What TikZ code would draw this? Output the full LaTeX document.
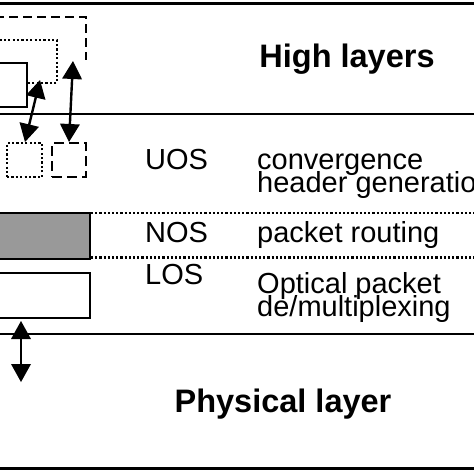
\documentclass[tikz,border=0pt]{standalone}
\usepackage{fontspec}
\setmainfont{Liberation Sans}
\usetikzlibrary{calc}
\newcommand\arrhead[2]{%
  \coordinate (hb) at ($(#1)!18pt!(#2)$);
  \fill[black] (#1) -- ($(hb)!10pt!90:(#1)$) -- ($(hb)!10pt!-90:(#1)$) -- cycle;}
\begin{document}
\begin{tikzpicture}[x=1pt,y=-1pt,
  layerline/.style={line width=2.6pt},
  dotline/.style={line width=2.6pt,dash pattern=on 2.2pt off 2.2pt},
  thindot/.style={line width=2.4pt,dash pattern=on 2.2pt off 2pt},
  dashline/.style={line width=2.6pt,dash pattern=on 9pt off 5pt},
  solidbox/.style={line width=2.6pt},
  shaft/.style={line width=2.4pt,shorten <=8pt,shorten >=8pt},
  big/.style={font=\fontsize{32.5}{34}\selectfont\bfseries,inner sep=0pt,anchor=base},
  txt/.style={font=\fontsize{29}{24}\selectfont,inner sep=0pt,anchor=base west}]
\useasboundingbox (0,0) rectangle (474,474);
% layer boundaries
\draw[layerline] (-5,3.5) -- (480,3.5);
\draw[layerline] (-5,114) -- (480,114);
\draw[layerline] (-5,334) -- (480,334);
\draw[line width=3pt] (-5,468.5) -- (480,468.5);
% high-layer boxes
\draw[dashline] (-5,17) -| (86,60);
\draw[dotline,fill=white] (-5,40) -| (57,83) -- (-5,83);
\draw[solidbox,fill=white] (-5,63) -| (27,107) -- (-5,107);
% small UOS boxes
\node[draw,dotline,minimum width=35pt,minimum height=34pt,inner sep=0pt] (sdot) at (24.5,160) {};
\node[draw,dashline,dash pattern=on 10pt off 5pt,minimum width=34pt,minimum height=34pt,inner sep=0pt] (sdash) at (69,160) {};
% NOS shaded box and dotted boundaries
\draw[line width=2.6pt,fill=black!40] (-5,213) rectangle (90,259);
\draw[thindot] (91,213) -- (480,213);
\draw[thindot] (91,257.5) -- (480,257.5);
% LOS box
\draw[line width=2.2pt,fill=white] (-5,273) -| (90,318) -- (-5,318);
% arrows
\coordinate (a1t) at (40,80);
\coordinate (a1b) at (25,142);
\coordinate (a2t) at (73,61);
\coordinate (a2b) at (69,142);
\coordinate (a3t) at (21,321);
\coordinate (a3b) at (21,382);
\draw[shaft] (a1t) -- (a1b);
\draw[shaft] (a2t) -- (a2b);
\draw[shaft] (a3t) -- (a3b);
\arrhead{a1t}{a1b}\arrhead{a1b}{a1t}
\arrhead{a2t}{a2b}\arrhead{a2b}{a2t}
\arrhead{a3t}{a3b}\arrhead{a3b}{a3t}
% texts
\node[big] (hl) at (347,67) {High layers};
\node[big] (pl) at (283,412) {Physical layer};
\node[txt] (uos) at (145,169) {UOS};
\node[txt] (uos1) at (257,169) {convergence};
\node[txt] (uos2) at (257,192) {header generation};
\node[txt] (nos) at (145,242) {NOS};
\node[txt] (nos1) at (257,242) {packet routing};
\node[txt] (los) at (145,284) {LOS};
\node[txt] (los1) at (257,293) {Optical packet};
\node[txt] (los2) at (257,316) {de/multiplexing};
\end{tikzpicture}
\end{document}
